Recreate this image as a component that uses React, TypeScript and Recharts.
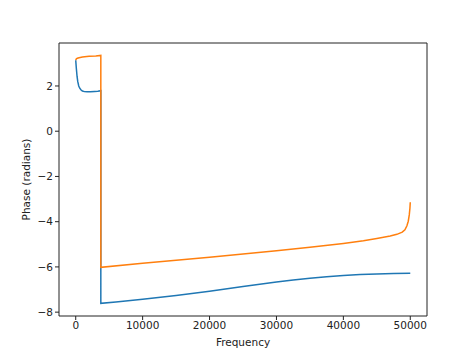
import React from "react";
import { LineChart, Line, XAxis, YAxis, ReferenceLine } from "recharts";

const blueFreq = [0, 100, 200, 300, 450, 600, 800, 1000, 1300, 1700, 2200, 2800, 3300, 3750, 3750, 6000, 10000, 15000, 20000, 25000, 30000, 32500, 35000, 37500, 40000, 42500, 45000, 47500, 50000];
const bluePhase = [3.14, 2.75, 2.42, 2.2, 2.0, 1.9, 1.82, 1.78, 1.75, 1.74, 1.74, 1.76, 1.77, 1.79, -7.61, -7.55, -7.43, -7.26, -7.08, -6.87, -6.67, -6.58, -6.5, -6.43, -6.38, -6.34, -6.31, -6.29, -6.28];

const orangeFreq = [0, 100, 250, 500, 1000, 2000, 3000, 3750, 3750, 10000, 20000, 30000, 35000, 40000, 43000, 45000, 47000, 48000, 48800, 49200, 49500, 49700, 49850, 49950, 50000];
const orangePhase = [3.14, 3.2, 3.23, 3.25, 3.28, 3.31, 3.33, 3.35, -6.02, -5.84, -5.57, -5.28, -5.13, -4.96, -4.84, -4.74, -4.63, -4.56, -4.46, -4.36, -4.18, -3.98, -3.7, -3.4, -3.14];

const xTicks = [0, 10000, 20000, 30000, 40000, 50000];
const yTicks = [-8, -6, -4, -2, 0, 2];

const blueData = blueFreq.map((f, i) => ({ f, v: bluePhase[i] }));
const orangeData = orangeFreq.map((f, i) => ({ f, v: orangePhase[i] }));

const X_DOMAIN: [number, number] = [-2500, 52500];
const Y_DOMAIN: [number, number] = [-8.17, 3.9];

const fmt = (v: number) => String(v).replace("-", "\u2212");
const font = "DejaVu Sans";
const tickStyle = { fontSize: 10.5, fill: "#222", fontFamily: font };

export default function App() {
  return (
    <div style={{ position: "absolute", left: 0, top: 0, width: 474, height: 355, background: "#fff" }}>
      <LineChart width={474} height={355} margin={{ top: 43, right: 47, bottom: 0, left: 0 }}>
        <XAxis
          xAxisId="b"
          dataKey="f"
          type="number"
          domain={X_DOMAIN}
          ticks={xTicks}
          allowDataOverflow
          height={39}
          tickSize={4}
          tick={tickStyle}
          tickFormatter={fmt}
          axisLine={{ stroke: "#222" }}
          tickLine={{ stroke: "#222" }}
          label={{ value: "Frequency", position: "insideBottom", offset: 9, style: { fontSize: 10.5, fill: "#222", fontFamily: font } }}
        />
        <YAxis
          yAxisId="l"
          type="number"
          domain={Y_DOMAIN}
          ticks={yTicks}
          allowDataOverflow
          width={59}
          tickSize={4}
          tick={tickStyle}
          tickFormatter={fmt}
          axisLine={{ stroke: "#222" }}
          tickLine={{ stroke: "#222" }}
          label={{ value: "Phase (radians)", angle: -90, position: "insideLeft", offset: 26, style: { fontSize: 10.5, fill: "#222", fontFamily: font, textAnchor: "middle" } }}
        />
        <ReferenceLine xAxisId="b" yAxisId="l" y={Y_DOMAIN[1]} stroke="#222" strokeWidth={1} />
        <ReferenceLine xAxisId="b" yAxisId="l" x={X_DOMAIN[1]} stroke="#222" strokeWidth={1} />
        <Line xAxisId="b" yAxisId="l" data={blueData} dataKey="v" stroke="#1f77b4" strokeWidth={1.5} dot={false} isAnimationActive={false} type="linear" />
        <Line xAxisId="b" yAxisId="l" data={orangeData} dataKey="v" stroke="#ff7f0e" strokeWidth={1.5} dot={false} isAnimationActive={false} type="linear" />
      </LineChart>
    </div>
  );
}
